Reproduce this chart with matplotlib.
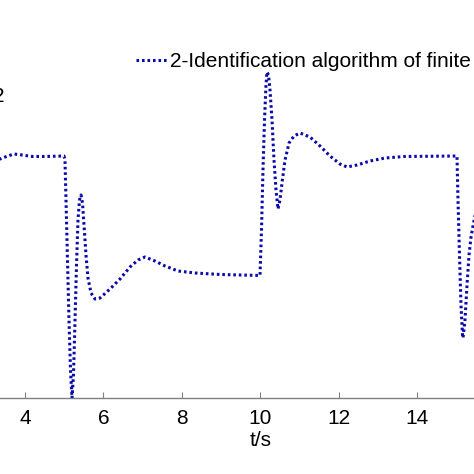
import matplotlib
matplotlib.use("Agg")
import matplotlib.pyplot as plt

plt.rcParams['font.family'] = ['Liberation Sans', 'DejaVu Sans']

# time (s)
t = [3.209, 3.362, 3.490, 3.719, 3.923, 4.179, 4.510, 4.995,
     5.020, 5.046, 5.084, 5.122, 5.161, 5.199, 5.237, 5.276, 5.314, 5.352,
     5.390, 5.429, 5.467, 5.505, 5.556, 5.607, 5.684, 5.786, 5.913, 6.168,
     6.423, 6.679, 6.883, 7.061, 7.316, 7.571, 7.903, 8.337, 8.974, 9.995,
     10.033, 10.071, 10.110, 10.148, 10.173, 10.212, 10.250, 10.301, 10.352,
     10.403, 10.454, 10.505, 10.556, 10.633, 10.735, 10.862, 11.015, 11.270,
     11.526, 11.781, 12.036, 12.214, 12.469, 12.801, 13.184, 13.694, 15.020,
     15.046, 15.084, 15.122, 15.161, 15.173, 15.224, 15.276, 15.327, 15.378,
     15.429, 15.505, 15.607]
# identified value
y = [0.932, 0.949, 0.983, 1.034, 1.017, 0.992, 0.992, 1.000,
     0.932, 0.254, -0.763, -1.780, -2.627, -3.102, -2.712, -1.780, -0.847, -0.085,
     0.254, 0.339, 0.203, -0.169, -0.678, -1.068, -1.322, -1.424, -1.407, -1.254,
     -1.085, -0.881, -0.763, -0.712, -0.780, -0.864, -0.949, -0.983, -1.008, -1.025,
     -0.254, 0.763, 1.610, 2.203, 2.424, 2.373, 2.119, 1.610, 0.932,
     0.424, 0.102, 0.254, 0.542, 0.932, 1.220, 1.339, 1.390, 1.322,
     1.169, 1.000, 0.864, 0.814, 0.847, 0.915, 0.966, 0.992, 1.000,
     0.254, -0.678, -1.525, -2.034, -2.085, -1.780, -1.186, -0.678, -0.373,
     -0.186, 0.085, 0.339]

xticks = [4, 6, 8, 10, 12, 14]
label = '2-Identification algorithm of finite'

W = H = 474
fig = plt.figure(figsize=(4.74, 4.74), dpi=100)
# axes extends beyond the visible (cropped) canvas
left_px, right_px = -131.8, -131.8 + 20 * 39.2
bottom_px, top_px = 398, -100
ax = fig.add_axes([left_px / W, 1 - bottom_px / H,
                   (right_px - left_px) / W, (bottom_px - top_px) / H])
ax.set_xlim(0, 20)
ax.set_ylim((215 - 398) / 59, (215 - (-100)) / 59)

ax.plot(t, y, color='#0a0aa8', linewidth=2.2, linestyle=(0, (0.85, 0.95)),
        label=label, clip_on=True)

ax.set_xticks(xticks)
ax.set_xticklabels([str(v) for v in xticks], fontsize=15)
ax.set_yticks([])
for s in ['top', 'left', 'right']:
    ax.spines[s].set_visible(False)
ax.spines['bottom'].set_color('#808080')
ax.spines['bottom'].set_linewidth(1.0)
ax.tick_params(axis='x', direction='in', length=4, width=0.8, color='#808080',
               pad=8, labelcolor='black')
ax.set_xlabel('t/s', fontsize=15, labelpad=2)

leg = ax.legend(loc='upper left', bbox_to_anchor=(136 / W, 1 - 52 / H),
                bbox_transform=fig.transFigure, frameon=False, fontsize=15,
                borderpad=0, borderaxespad=0, handlelength=1.5,
                handletextpad=0.12)

fig.text(5 / W, 1 - 102 / H, '2', fontsize=15, ha='right', va='baseline')

fig.savefig('out.png', dpi=100)
